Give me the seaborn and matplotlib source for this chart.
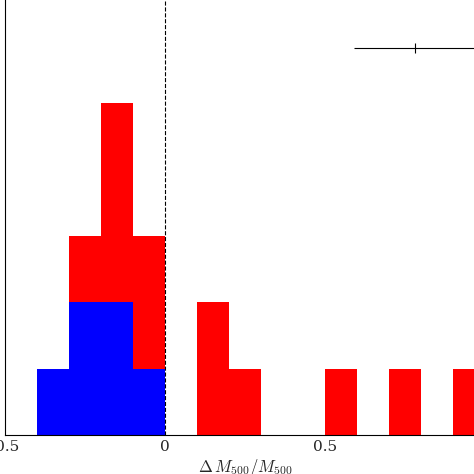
import numpy as np
import pandas as pd
import matplotlib
matplotlib.use("Agg")
import matplotlib.pyplot as plt
import seaborn as sns

sns.set_style("white")
plt.rcParams['font.family'] = ['DejaVu Serif']
plt.rcParams['mathtext.fontset'] = 'cm'

bin_edges = [round(-0.4 + 0.1 * i, 2) for i in range(15)]
bin_centers = [round(e + 0.05, 3) for e in bin_edges[:-1]]
red_counts = [1, 3, 5, 3, 0, 2, 1, 0, 0, 1, 0, 1, 0, 1]
blue_counts = [1, 2, 2, 1, 0, 0, 0, 0, 0, 0, 0, 0, 0, 0]
err_x, err_y, err_xerr = 0.78, 5.82, 0.19

df = pd.DataFrame({'x': bin_centers, 'red': red_counts, 'blue': blue_counts})

fig = plt.figure(figsize=(4.74, 4.74), dpi=100)
ax = fig.add_axes([5/474, 39/474, 480/474, 465.5/474])
sns.histplot(data=df, x='x', weights='red', bins=bin_edges, color='#ff0000',
             alpha=1, linewidth=0, ax=ax)
sns.histplot(data=df, x='x', weights='blue', bins=bin_edges, color='#0000ff',
             alpha=1, linewidth=0, ax=ax)
ax.axvline(0, color='k', ls='--', lw=0.8)
ax.errorbar([err_x], [err_y], xerr=[err_xerr], color='k', lw=0.8, capsize=0)
ax.plot([err_x], [err_y], marker='|', color='k', ms=7, mew=0.8)
ax.set_xlim(-0.5, 1.0)
ax.set_ylim(0, 7)
ax.set_xticks([-0.5, 0, 0.5, 1.0])
ax.set_xticklabels(['-0.5', '0', '0.5', '1'])
ax.set_yticks(range(0, 8))
ax.tick_params(direction='in', top=True, right=True, length=6, labelsize=11)
ax.set_ylabel('')
ax.set_xlabel(r'$\Delta\, M_{500}/M_{500}$', fontsize=12, labelpad=2)
for s in ax.spines.values():
    s.set_color('k'); s.set_linewidth(0.8)
fig.savefig('out.png', dpi=100)
